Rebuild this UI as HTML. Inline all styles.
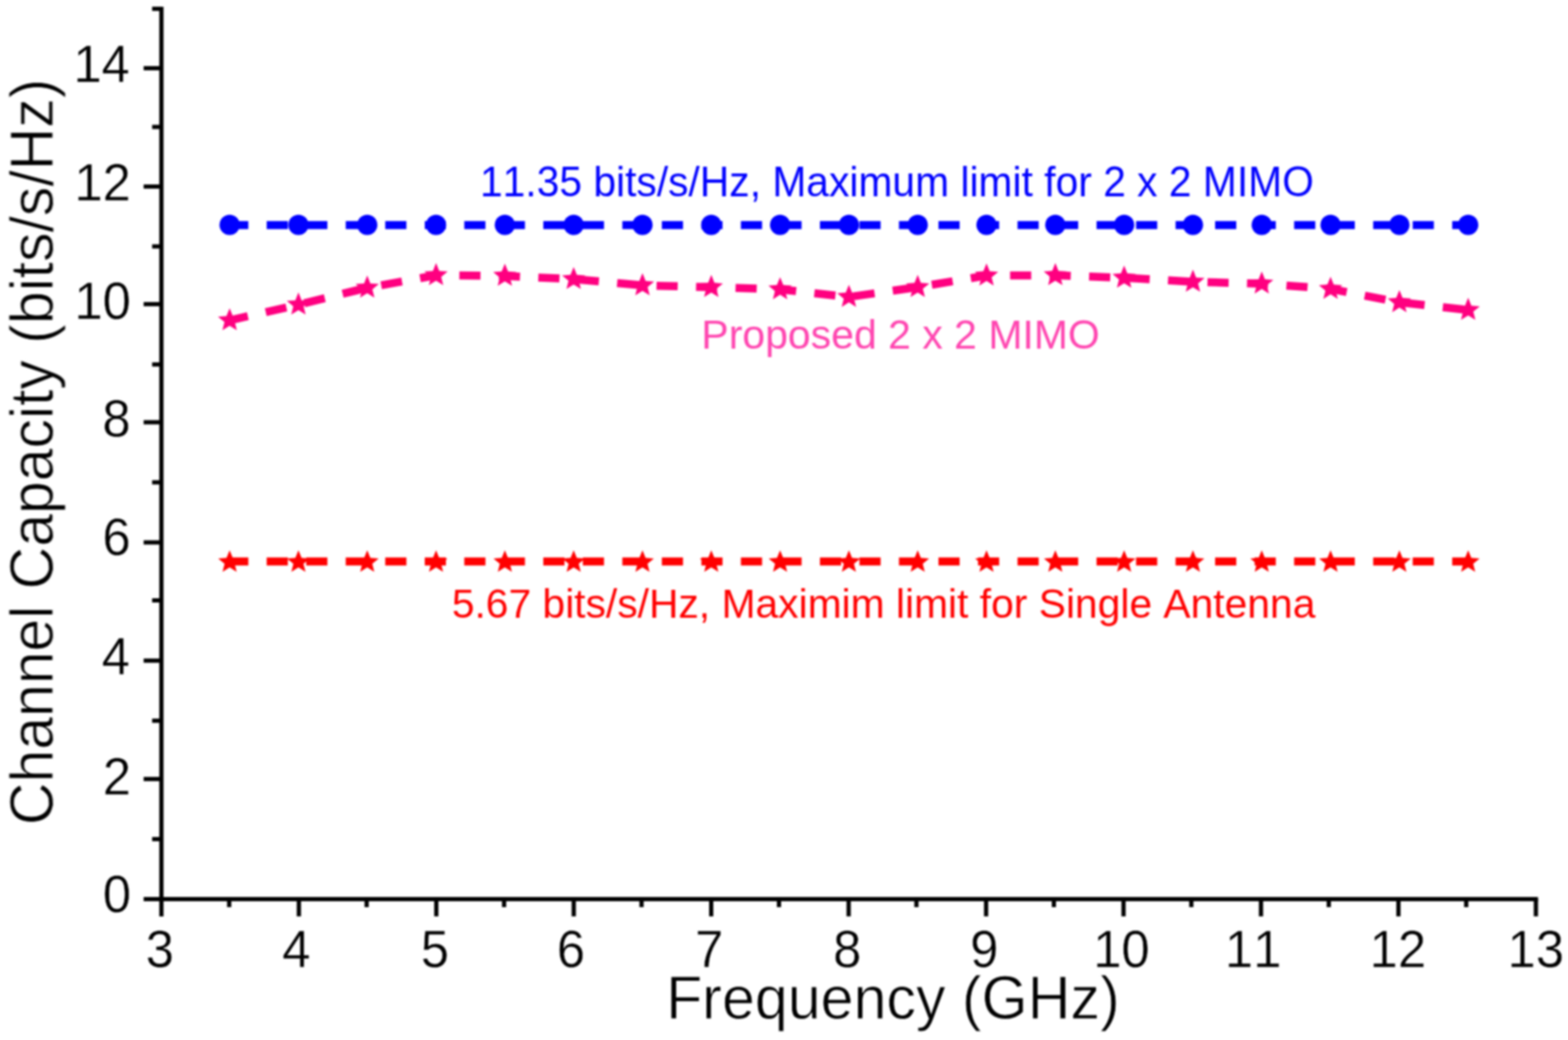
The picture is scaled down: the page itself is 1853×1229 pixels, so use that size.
<!DOCTYPE html>
<html lang="en">
<head>
<meta charset="utf-8">
<title>Channel Capacity vs Frequency</title>
<style>
html,body{margin:0;padding:0;background:#fff;}
body{width:1853px;height:1229px;overflow:hidden;}
svg{display:block;}
text{font-family:"Liberation Sans",Arial,Helvetica,sans-serif;font-kerning:none;}
</style>
</head>
<body>
<svg width="1853" height="1229" viewBox="0 0 1853 1229">
<defs><filter id="soft" x="0" y="0" width="1853" height="1229" filterUnits="userSpaceOnUse" color-interpolation-filters="sRGB"><feGaussianBlur stdDeviation="1"/></filter></defs>
<rect width="1853" height="1229" fill="#fff"/>
<g filter="url(#soft)">
<g stroke="#000" stroke-width="5" fill="none">
<path d="M190.75 7.90 V1082.90"/>
<path d="M169.75 1062.40 H1817.55"/>
<path d="M179.75 991.60 H190.75"/>
<path d="M169.75 920.60 H190.75"/>
<path d="M179.75 851.70 H190.75"/>
<path d="M169.75 780.70 H190.75"/>
<path d="M179.75 709.50 H190.75"/>
<path d="M169.75 641.00 H190.75"/>
<path d="M179.75 570.00 H190.75"/>
<path d="M169.75 499.00 H190.75"/>
<path d="M179.75 430.70 H190.75"/>
<path d="M169.75 359.40 H190.75"/>
<path d="M179.75 291.20 H190.75"/>
<path d="M169.75 220.45 H190.75"/>
<path d="M179.75 150.00 H190.75"/>
<path d="M169.75 80.60 H190.75"/>
<path d="M179.75 10.40 H190.75"/>
<path d="M270.85 1062.40 V1072.00"/>
<path d="M353.18 1062.40 V1082.90"/>
<path d="M433.28 1062.40 V1072.00"/>
<path d="M515.61 1062.40 V1082.90"/>
<path d="M595.71 1062.40 V1072.00"/>
<path d="M678.04 1062.40 V1082.90"/>
<path d="M758.14 1062.40 V1072.00"/>
<path d="M840.47 1062.40 V1082.90"/>
<path d="M920.57 1062.40 V1072.00"/>
<path d="M1002.90 1062.40 V1082.90"/>
<path d="M1083.00 1062.40 V1072.00"/>
<path d="M1165.33 1062.40 V1082.90"/>
<path d="M1245.43 1062.40 V1072.00"/>
<path d="M1327.76 1062.40 V1082.90"/>
<path d="M1407.86 1062.40 V1072.00"/>
<path d="M1490.19 1062.40 V1082.90"/>
<path d="M1570.29 1062.40 V1072.00"/>
<path d="M1652.62 1062.40 V1082.90"/>
<path d="M1732.72 1062.40 V1072.00"/>
<path d="M1815.05 1062.40 V1082.90"/>
</g>
<g font-size="60" fill="#000" stroke="#fff" stroke-width="0.4" paint-order="fill stroke">
<text transform="translate(86.70 96.60) scale(1 1.0424)">14</text>
<text transform="translate(87.95 236.60) scale(1 1.0424)">12</text>
<text transform="translate(87.90 376.70) scale(1 1.0424)">10</text>
<text transform="translate(120.95 516.10) scale(1 1.0424)">8</text>
<text transform="translate(120.95 656.10) scale(1 1.0424)">6</text>
<text transform="translate(120.20 796.60) scale(1 1.0424)">4</text>
<text transform="translate(121.45 938.50) scale(1 1.0424)">2</text>
<text transform="translate(121.40 1078.30) scale(1 1.0424)">0</text>
<text transform="translate(172.35 1142.50) scale(1 1.0424)">3</text>
<text transform="translate(333.45 1142.50) scale(1 1.0424)">4</text>
<text transform="translate(497.33 1142.50) scale(1 1.0424)">5</text>
<text transform="translate(658.03 1142.50) scale(1 1.0424)">6</text>
<text transform="translate(821.48 1142.50) scale(1 1.0424)">7</text>
<text transform="translate(984.47 1142.50) scale(1 1.0424)">8</text>
<text transform="translate(1146.38 1142.50) scale(1 1.0424)">9</text>
<text transform="translate(1291.90 1142.50) scale(1 1.0424)">10</text>
<text transform="translate(1447.55 1142.50) scale(1 1.0424)">11</text>
<text transform="translate(1618.55 1142.50) scale(1 1.0424)">12</text>
<text transform="translate(1781.60 1142.50) scale(1 1.0424)">13</text>
</g>
<text transform="translate(787.16 1204.10) scale(0.9986 1.0382)" font-size="70" fill="#000" stroke="#fff" stroke-width="0.8" paint-order="fill stroke">Frequency (GHz)</text>
<text transform="translate(62.80 974.98) rotate(-90) scale(0.9946 1.0363)" font-size="70" fill="#000" stroke="#fff" stroke-width="0.8" paint-order="fill stroke">Channel Capacity (bits/s/Hz)</text>
<polyline points="271.37,266.12 352.68,266.12 433.99,266.12 515.31,266.12 596.62,266.12 677.94,266.12 759.25,266.12 840.57,266.12 921.88,266.12 1003.20,266.12 1084.52,266.12 1165.83,266.12 1247.15,266.12 1328.46,266.12 1409.78,266.12 1491.09,266.12 1572.40,266.12 1653.72,266.12 1735.04,266.12" fill="none" stroke="#0000ff" stroke-width="9.5" stroke-dasharray="25 21.7" stroke-dashoffset="2.9"/>
<circle cx="271.37" cy="265.72" r="12" fill="#0000ff"/>
<circle cx="352.68" cy="265.72" r="12" fill="#0000ff"/>
<circle cx="433.99" cy="265.72" r="12" fill="#0000ff"/>
<circle cx="515.31" cy="265.72" r="12" fill="#0000ff"/>
<circle cx="596.62" cy="265.72" r="12" fill="#0000ff"/>
<circle cx="677.94" cy="265.72" r="12" fill="#0000ff"/>
<circle cx="759.25" cy="265.72" r="12" fill="#0000ff"/>
<circle cx="840.57" cy="265.72" r="12" fill="#0000ff"/>
<circle cx="921.88" cy="265.72" r="12" fill="#0000ff"/>
<circle cx="1003.20" cy="265.72" r="12" fill="#0000ff"/>
<circle cx="1084.52" cy="265.72" r="12" fill="#0000ff"/>
<circle cx="1165.83" cy="265.72" r="12" fill="#0000ff"/>
<circle cx="1247.15" cy="265.72" r="12" fill="#0000ff"/>
<circle cx="1328.46" cy="265.72" r="12" fill="#0000ff"/>
<circle cx="1409.78" cy="265.72" r="12" fill="#0000ff"/>
<circle cx="1491.09" cy="265.72" r="12" fill="#0000ff"/>
<circle cx="1572.40" cy="265.72" r="12" fill="#0000ff"/>
<circle cx="1653.72" cy="265.72" r="12" fill="#0000ff"/>
<circle cx="1735.04" cy="265.72" r="12" fill="#0000ff"/>
<polyline points="271.37,378.63 352.68,360.05 433.99,340.06 515.31,325.33 596.62,326.04 677.94,329.89 759.25,337.26 840.57,339.36 921.88,341.95 1003.20,350.93 1084.52,339.36 1165.83,325.68 1247.15,325.33 1328.46,328.28 1409.78,333.05 1491.09,335.15 1572.40,341.46 1653.72,357.24 1735.04,366.36" fill="none" stroke="#ff0080" stroke-width="9.5" stroke-dasharray="25 21.7" stroke-dashoffset="2.9"/>
<polygon points="271.37,364.13 275.12,373.47 285.16,374.15 277.43,380.60 279.89,390.36 271.37,385.01 262.84,390.36 265.30,380.60 257.57,374.15 267.61,373.47" fill="#ff0080"/>
<polygon points="352.68,345.55 356.43,354.89 366.47,355.57 358.75,362.02 361.20,371.78 352.68,366.43 344.16,371.78 346.61,362.02 338.89,355.57 348.93,354.89" fill="#ff0080"/>
<polygon points="433.99,325.56 437.75,334.90 447.79,335.58 440.06,342.03 442.52,351.79 433.99,346.44 425.47,351.79 427.93,342.03 420.20,335.58 430.24,334.90" fill="#ff0080"/>
<polygon points="515.31,310.83 519.06,320.17 529.10,320.85 521.38,327.31 523.83,337.06 515.31,331.71 506.79,337.06 509.24,327.31 501.52,320.85 511.56,320.17" fill="#ff0080"/>
<polygon points="596.62,311.54 600.38,320.87 610.42,321.55 602.69,328.01 605.15,337.77 596.62,332.42 588.10,337.77 590.56,328.01 582.83,321.55 592.87,320.87" fill="#ff0080"/>
<polygon points="677.94,315.39 681.69,324.73 691.73,325.41 684.01,331.86 686.46,341.62 677.94,336.27 669.42,341.62 671.87,331.86 664.15,325.41 674.19,324.73" fill="#ff0080"/>
<polygon points="759.25,322.76 763.01,332.09 773.05,332.78 765.32,339.23 767.78,348.99 759.25,343.64 750.73,348.99 753.19,339.23 745.46,332.78 755.50,332.09" fill="#ff0080"/>
<polygon points="840.57,324.86 844.32,334.20 854.36,334.88 846.64,341.33 849.09,351.09 840.57,345.74 832.05,351.09 834.50,341.33 826.78,334.88 836.82,334.20" fill="#ff0080"/>
<polygon points="921.88,327.45 925.64,336.79 935.68,337.47 927.95,343.93 930.41,353.69 921.88,348.33 913.36,353.69 915.82,343.93 908.09,337.47 918.13,336.79" fill="#ff0080"/>
<polygon points="1003.20,336.43 1006.95,345.77 1016.99,346.45 1009.27,352.90 1011.72,362.66 1003.20,357.31 994.68,362.66 997.13,352.90 989.41,346.45 999.45,345.77" fill="#ff0080"/>
<polygon points="1084.52,324.86 1088.27,334.20 1098.31,334.88 1090.58,341.33 1093.04,351.09 1084.52,345.74 1075.99,351.09 1078.45,341.33 1070.72,334.88 1080.76,334.20" fill="#ff0080"/>
<polygon points="1165.83,311.18 1169.58,320.52 1179.62,321.20 1171.90,327.66 1174.35,337.42 1165.83,332.06 1157.31,337.42 1159.76,327.66 1152.04,321.20 1162.08,320.52" fill="#ff0080"/>
<polygon points="1247.15,310.83 1250.90,320.17 1260.94,320.85 1253.21,327.31 1255.67,337.06 1247.15,331.71 1238.62,337.06 1241.08,327.31 1233.35,320.85 1243.39,320.17" fill="#ff0080"/>
<polygon points="1328.46,313.78 1332.21,323.12 1342.25,323.80 1334.53,330.25 1336.98,340.01 1328.46,334.66 1319.94,340.01 1322.39,330.25 1314.67,323.80 1324.71,323.12" fill="#ff0080"/>
<polygon points="1409.78,318.55 1413.53,327.89 1423.57,328.57 1415.84,335.02 1418.30,344.78 1409.78,339.43 1401.25,344.78 1403.71,335.02 1395.98,328.57 1406.02,327.89" fill="#ff0080"/>
<polygon points="1491.09,320.65 1494.84,329.99 1504.88,330.67 1497.16,337.12 1499.61,346.88 1491.09,341.53 1482.57,346.88 1485.02,337.12 1477.30,330.67 1487.34,329.99" fill="#ff0080"/>
<polygon points="1572.40,326.96 1576.16,336.30 1586.20,336.98 1578.47,343.44 1580.93,353.19 1572.40,347.84 1563.88,353.19 1566.34,343.44 1558.61,336.98 1568.65,336.30" fill="#ff0080"/>
<polygon points="1653.72,342.74 1657.47,352.08 1667.51,352.76 1659.79,359.21 1662.24,368.97 1653.72,363.62 1645.20,368.97 1647.65,359.21 1639.93,352.76 1649.97,352.08" fill="#ff0080"/>
<polygon points="1735.04,351.86 1738.79,361.20 1748.83,361.88 1741.10,368.33 1743.56,378.09 1735.04,372.74 1726.51,378.09 1728.97,368.33 1721.24,361.88 1731.28,361.20" fill="#ff0080"/>
<polyline points="271.37,663.56 352.68,663.56 433.99,663.56 515.31,663.56 596.62,663.56 677.94,663.56 759.25,663.56 840.57,663.56 921.88,663.56 1003.20,663.56 1084.52,663.56 1165.83,663.56 1247.15,663.56 1328.46,663.56 1409.78,663.56 1491.09,663.56 1572.40,663.56 1653.72,663.56 1735.04,663.56" fill="none" stroke="#ff0000" stroke-width="9.5" stroke-dasharray="25 21.7" stroke-dashoffset="2.9"/>
<polygon points="271.37,650.16 275.04,659.31 284.87,659.97 277.31,666.29 279.71,675.85 271.37,670.61 263.02,675.85 265.42,666.29 257.86,659.97 267.69,659.31" fill="#ff0000"/>
<polygon points="352.68,650.16 356.35,659.31 366.19,659.97 358.62,666.29 361.03,675.85 352.68,670.61 344.33,675.85 346.74,666.29 339.17,659.97 349.01,659.31" fill="#ff0000"/>
<polygon points="433.99,650.16 437.67,659.31 447.50,659.97 439.94,666.29 442.34,675.85 433.99,670.61 425.65,675.85 428.05,666.29 420.49,659.97 430.32,659.31" fill="#ff0000"/>
<polygon points="515.31,650.16 518.98,659.31 528.82,659.97 521.25,666.29 523.66,675.85 515.31,670.61 506.96,675.85 509.37,666.29 501.80,659.97 511.64,659.31" fill="#ff0000"/>
<polygon points="596.62,650.16 600.30,659.31 610.13,659.97 602.57,666.29 604.97,675.85 596.62,670.61 588.28,675.85 590.68,666.29 583.12,659.97 592.95,659.31" fill="#ff0000"/>
<polygon points="677.94,650.16 681.61,659.31 691.45,659.97 683.88,666.29 686.29,675.85 677.94,670.61 669.59,675.85 672.00,666.29 664.43,659.97 674.27,659.31" fill="#ff0000"/>
<polygon points="759.25,650.16 762.93,659.31 772.76,659.97 765.20,666.29 767.60,675.85 759.25,670.61 750.91,675.85 753.31,666.29 745.75,659.97 755.58,659.31" fill="#ff0000"/>
<polygon points="840.57,650.16 844.24,659.31 854.08,659.97 846.51,666.29 848.92,675.85 840.57,670.61 832.22,675.85 834.63,666.29 827.06,659.97 836.90,659.31" fill="#ff0000"/>
<polygon points="921.88,650.16 925.56,659.31 935.39,659.97 927.83,666.29 930.23,675.85 921.88,670.61 913.54,675.85 915.94,666.29 908.38,659.97 918.21,659.31" fill="#ff0000"/>
<polygon points="1003.20,650.16 1006.87,659.31 1016.71,659.97 1009.14,666.29 1011.55,675.85 1003.20,670.61 994.85,675.85 997.26,666.29 989.69,659.97 999.53,659.31" fill="#ff0000"/>
<polygon points="1084.52,650.16 1088.19,659.31 1098.02,659.97 1090.46,666.29 1092.86,675.85 1084.52,670.61 1076.17,675.85 1078.57,666.29 1071.01,659.97 1080.84,659.31" fill="#ff0000"/>
<polygon points="1165.83,650.16 1169.50,659.31 1179.34,659.97 1171.77,666.29 1174.18,675.85 1165.83,670.61 1157.48,675.85 1159.89,666.29 1152.32,659.97 1162.16,659.31" fill="#ff0000"/>
<polygon points="1247.15,650.16 1250.82,659.31 1260.65,659.97 1253.09,666.29 1255.49,675.85 1247.15,670.61 1238.80,675.85 1241.20,666.29 1233.64,659.97 1243.47,659.31" fill="#ff0000"/>
<polygon points="1328.46,650.16 1332.13,659.31 1341.97,659.97 1334.40,666.29 1336.81,675.85 1328.46,670.61 1320.11,675.85 1322.52,666.29 1314.95,659.97 1324.79,659.31" fill="#ff0000"/>
<polygon points="1409.78,650.16 1413.45,659.31 1423.28,659.97 1415.72,666.29 1418.12,675.85 1409.78,670.61 1401.43,675.85 1403.83,666.29 1396.27,659.97 1406.10,659.31" fill="#ff0000"/>
<polygon points="1491.09,650.16 1494.76,659.31 1504.60,659.97 1497.03,666.29 1499.44,675.85 1491.09,670.61 1482.74,675.85 1485.15,666.29 1477.58,659.97 1487.42,659.31" fill="#ff0000"/>
<polygon points="1572.40,650.16 1576.08,659.31 1585.91,659.97 1578.35,666.29 1580.75,675.85 1572.40,670.61 1564.06,675.85 1566.46,666.29 1558.90,659.97 1568.73,659.31" fill="#ff0000"/>
<polygon points="1653.72,650.16 1657.39,659.31 1667.23,659.97 1659.66,666.29 1662.07,675.85 1653.72,670.61 1645.37,675.85 1647.78,666.29 1640.21,659.97 1650.05,659.31" fill="#ff0000"/>
<polygon points="1735.04,650.16 1738.71,659.31 1748.54,659.97 1740.98,666.29 1743.38,675.85 1735.04,670.61 1726.69,675.85 1729.09,666.29 1721.53,659.97 1731.36,659.31" fill="#ff0000"/>
<text transform="translate(567.13 232.10) scale(1.0043 1.0221)" font-size="48" fill="#0000ff">11.35 bits/s/Hz, Maximum limit for 2 x 2 MIMO</text>
<text transform="translate(828.87 412.10) scale(1.0087 1.0132)" font-size="48" fill="#ff45b0">Proposed 2 x 2 MIMO</text>
<text transform="translate(533.89 730.10) scale(1.0045 1.0132)" font-size="48" fill="#ff0000">5.67 bits/s/Hz, Maximim limit for Single Antenna</text>
</g>
</svg>
</body>
</html>
